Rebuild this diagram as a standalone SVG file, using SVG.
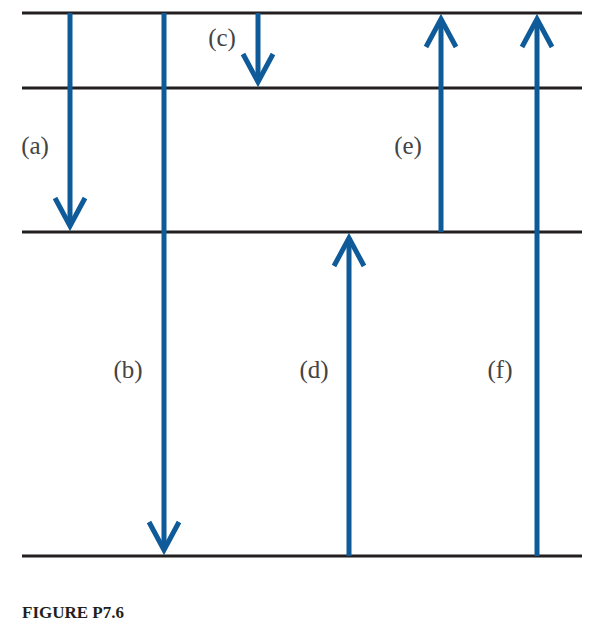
<svg xmlns="http://www.w3.org/2000/svg" width="606" height="640" viewBox="0 0 606 640">
<style>
.lv{stroke:#231f20;stroke-width:3;fill:none}
.ar{stroke:#0f5a99;stroke-width:5;fill:none}
.hd{stroke:#0f5a99;stroke-width:5;fill:none;stroke-linejoin:miter}
.lb{font-family:"Liberation Serif",serif;font-size:25px;fill:#444;text-anchor:middle}
.cap{font-family:"Liberation Serif",serif;font-size:17px;font-weight:bold;fill:#231f20}
</style>
<rect width="606" height="640" fill="#fff"/>
<g id="levels">
<line class="lv" x1="22" y1="13" x2="582" y2="13"/>
<line class="lv" x1="22" y1="88" x2="582" y2="88"/>
<line class="lv" x1="22" y1="232" x2="582" y2="232"/>
<line class="lv" x1="22" y1="556" x2="582" y2="556"/>
</g>
<g id="connectors">
<line class="ar" x1="70" y1="13" x2="70" y2="226"/><polyline class="hd" points="55,198 70,226 85,198"/>
<line class="ar" x1="164" y1="13" x2="164" y2="550"/><polyline class="hd" points="149,522 164,550 179,522"/>
<line class="ar" x1="258" y1="13" x2="258" y2="82"/><polyline class="hd" points="243,54 258,82 273,54"/>
<line class="ar" x1="349" y1="556" x2="349" y2="238"/><polyline class="hd" points="334,266 349,238 364,266"/>
<line class="ar" x1="441" y1="232" x2="441" y2="19"/><polyline class="hd" points="426,47 441,19 456,47"/>
<line class="ar" x1="537" y1="556" x2="537" y2="19"/><polyline class="hd" points="522,47 537,19 552,47"/>
</g>
<g id="labels">
<text class="lb" x="35" y="154">(a)</text>
<text class="lb" x="128" y="378">(b)</text>
<text class="lb" x="222" y="46">(c)</text>
<text class="lb" x="314" y="378">(d)</text>
<text class="lb" x="408" y="154">(e)</text>
<text class="lb" x="500" y="378">(f)</text>
</g>
<text class="cap" x="22" y="618">FIGURE P7.6</text>
</svg>
